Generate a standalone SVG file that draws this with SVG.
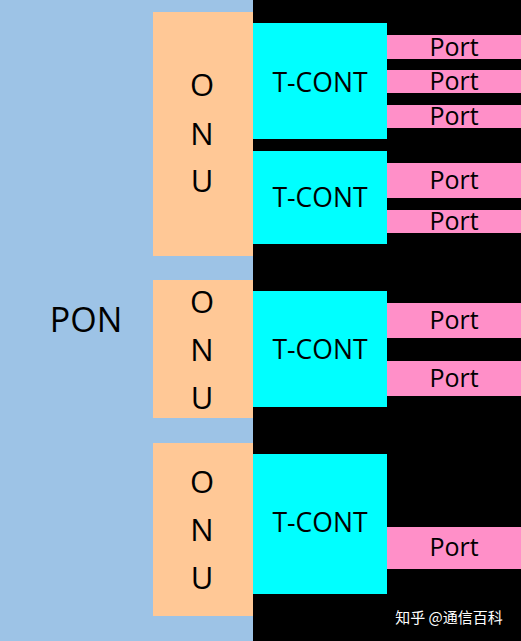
<svg xmlns="http://www.w3.org/2000/svg" width="521" height="641" viewBox="0 0 521 641">
<style>
.onu{fill:#FFC896}
.tc{fill:#00FFFF}
.port{fill:#FF8FC8}
text{font-family:"Open Sans","Noto Sans","DejaVu Sans",sans-serif;fill:#000;text-anchor:middle}
.l{font-size:31px}
.t{font-size:26.5px}
.p{font-size:25px}
</style>
<rect x="0" y="0" width="253" height="641" fill="#9DC3E6"/>
<rect x="253" y="0" width="268" height="641" fill="#000"/>
<g id="pon"><text x="86" y="332" style="font-size:34px">PON</text></g>
<g id="onu1"><rect class="onu" x="153" y="12" width="100" height="244"/>
<text class="l" x="202" y="96">O</text><text class="l" x="202" y="145">N</text><text class="l" x="202" y="192">U</text></g>
<g id="onu2"><rect class="onu" x="153" y="280" width="100" height="138"/>
<text class="l" x="202" y="313">O</text><text class="l" x="202" y="361">N</text><text class="l" x="202" y="409">U</text></g>
<g id="onu3"><rect class="onu" x="153" y="443" width="100" height="173"/>
<text class="l" x="202" y="493">O</text><text class="l" x="202" y="541">N</text><text class="l" x="202" y="589">U</text></g>
<g id="tcont1"><rect class="tc" x="253" y="23" width="134" height="116"/><text class="t" x="320" y="92">T-CONT</text></g>
<g id="tcont2"><rect class="tc" x="253" y="151" width="134" height="93"/><text class="t" x="320" y="207">T-CONT</text></g>
<g id="tcont3"><rect class="tc" x="253" y="291" width="134" height="116"/><text class="t" x="320" y="359">T-CONT</text></g>
<g id="tcont4"><rect class="tc" x="253" y="454" width="134" height="140"/><text class="t" x="320" y="532">T-CONT</text></g>
<g id="port1"><rect class="port" x="387" y="35" width="134" height="24"/><text class="p" x="454" y="56">Port</text></g>
<g id="port2"><rect class="port" x="387" y="70" width="134" height="23"/><text class="p" x="454" y="90">Port</text></g>
<g id="port3"><rect class="port" x="387" y="105" width="134" height="23"/><text class="p" x="454" y="125">Port</text></g>
<g id="port4"><rect class="port" x="387" y="163" width="134" height="35"/><text class="p" x="454" y="189">Port</text></g>
<g id="port5"><rect class="port" x="387" y="210" width="134" height="23"/><text class="p" x="454" y="230">Port</text></g>
<g id="port6"><rect class="port" x="387" y="303" width="134" height="35"/><text class="p" x="454" y="329">Port</text></g>
<g id="port7"><rect class="port" x="387" y="361" width="134" height="35"/><text class="p" x="454" y="387">Port</text></g>
<g id="port8"><rect class="port" x="387" y="527" width="134" height="42"/><text class="p" x="454" y="556">Port</text></g>
<g id="connectors"></g>
<text x="449" y="623" style="font-size:15px;fill:#fff;font-family:'Noto Sans CJK SC',sans-serif">知乎 @通信百科</text>
</svg>
